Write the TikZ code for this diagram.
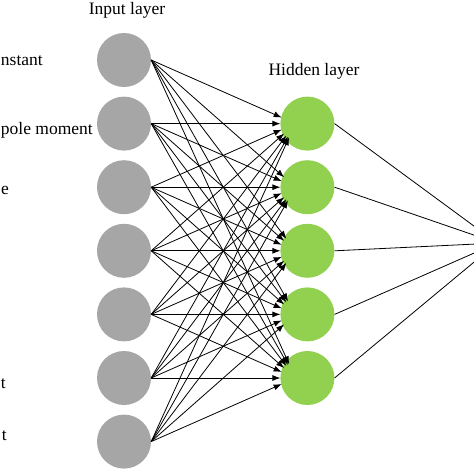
\documentclass[tikz,border=0pt]{standalone}
\usepackage{fontspec}
\setmainfont{Liberation Serif}
\usetikzlibrary{positioning, calc, arrows.meta}

\definecolor{ingray}{RGB}{166,166,166}
\definecolor{hidgreen}{RGB}{146,208,80}

\tikzset{
  neuron/.style={circle, minimum size=54pt, inner sep=0pt, draw=none},
  inp/.style={neuron, fill=ingray},
  hid/.style={neuron, fill=hidgreen},
  conn/.style={line width=0.8pt, -{Latex[length=8pt,width=6pt]}, shorten >=15pt},
  wire/.style={line width=0.8pt},
  lbl/.style={font=\fontsize{17.5}{20}\selectfont, inner sep=0pt},
}

\begin{document}
\begin{tikzpicture}[x=1pt, y=-1pt]
\useasboundingbox (0,0) rectangle (474,474);
\clip (0,0) rectangle (474,474);

\node[inp] (in1) at (124,60) {};
\node[inp] (in2) [below=9.2pt of in1] {};
\node[inp] (in3) [below=9.2pt of in2] {};
\node[inp] (in4) [below=9.2pt of in3] {};
\node[inp] (in5) [below=9.2pt of in4] {};
\node[inp] (in6) [below=9.2pt of in5] {};
\node[inp] (in7) [below=9.2pt of in6] {};

\node[hid] (hid1) [right=129pt of in2] {};
\node[hid] (hid2) [right=129pt of in3] {};
\node[hid] (hid3) [right=129pt of in4] {};
\node[hid] (hid4) [right=129pt of in5] {};
\node[hid] (hid5) [right=129pt of in6] {};

\coordinate (out) at (497,243);

\node[lbl, anchor=base] (inlbl) at (127,14) {Input layer};
\node[lbl, anchor=base] (hidlbl) at (314,75) {Hidden layer};

% feature names, at the left edge
\node[lbl, anchor=base east] (feat1) at (43,65) {nstant};
\node[lbl, anchor=base east] (feat2) at (93,134) {pole moment};
\node[lbl, anchor=base east] (feat3) at (9,194) {e};
\node[lbl, anchor=base east] (feat6) at (6,388) {t};
\node[lbl, anchor=base east] (feat7) at (7,440) {t};

\foreach \i in {1,...,7}
  \foreach \j in {1,...,5}
    \draw[conn] (in\i.east) -- ($(hid\j.center)+(-12pt,0)$);

\foreach \j in {1,...,5}
  \draw[wire] (hid\j.east) -- (out);
\end{tikzpicture}
\end{document}
